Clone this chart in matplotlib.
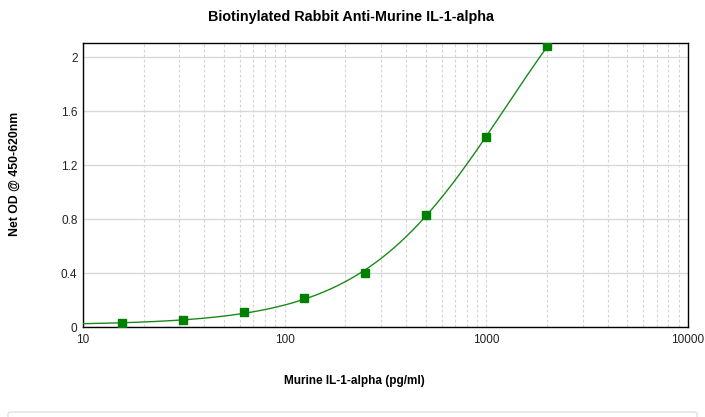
import numpy as np
import matplotlib
matplotlib.use("Agg")
from matplotlib import pyplot as plt
from matplotlib.patches import FancyBboxPatch
from matplotlib.ticker import FixedLocator, LogLocator, NullFormatter

plt.rcParams['font.family'] = ['Liberation Sans', 'DejaVu Sans']

# standard concentrations (pg/ml) and net OD
conc = [15.625, 31.25, 62.5, 125, 250, 500, 1000, 2000]
od = [0.030, 0.052, 0.109, 0.215, 0.402, 0.827, 1.407, 2.080]
y_ticks = [0, 0.4, 0.8, 1.2, 1.6, 2]
y_tick_labels = ["0", "0.4", "0.8", "1.2", "1.6", "2"]
x_ticks = [10, 100, 1000, 10000]
x_tick_labels = ["10", "100", "1000", "10000"]


def fit_4pl(x, y):
    # crude 4PL fit: grid over slope/midpoint, bottom/top by least squares
    x = np.asarray(x, float)
    y = np.asarray(y, float)
    best = None
    for b in np.linspace(0.5, 3.0, 101):
        for logc in np.linspace(2.0, 5.0, 151):
            f = 1.0 / (1.0 + (x / 10 ** logc) ** b)
            A = np.column_stack([f, 1 - f])
            (a, d), *_ = np.linalg.lstsq(A, y, rcond=None)
            err = np.sum((A @ [a, d] - y) ** 2)
            if best is None or err < best[0]:
                best = (err, a, b, 10 ** logc, d)
    return best[1:]


a, b, c, d = fit_4pl(conc, od)
xs = np.logspace(1, np.log10(conc[-1]), 300)
ys = d + (a - d) / (1 + (xs / c) ** b)

fig = plt.figure(figsize=(7.05, 4.17), dpi=100)
ax = fig.add_axes([83 / 705, 1 - 327 / 417, 605 / 705, 284 / 417])

ax.plot(xs, ys, color="#1a8a1a", lw=1.0, zorder=3)
ax.plot(conc, od, ls="none", marker="s", ms=5.8, color="#008000", zorder=4)

ax.set_xscale("log")
ax.set_xlim(10, 10000)
ax.set_ylim(0, 2.104)
ax.xaxis.set_major_locator(FixedLocator(x_ticks))
ax.set_xticklabels(x_tick_labels)
ax.xaxis.set_minor_locator(LogLocator(base=10, subs=np.arange(2, 10)))
ax.xaxis.set_minor_formatter(NullFormatter())
ax.set_yticks(y_ticks)
ax.set_yticklabels(y_tick_labels)
ax.tick_params(which="both", length=0, labelsize=8.5, colors="#222222")
ax.tick_params(axis="x", pad=5)
ax.tick_params(axis="y", pad=4)

ax.grid(axis="x", which="both", color="#d4d4d4", ls=(0, (2.5, 2)), lw=0.8)
ax.grid(axis="y", which="major", color="#d8d8d8", ls="-", lw=1.0)
ax.set_axisbelow(True)
for s in ax.spines.values():
    s.set_linewidth(1.0)
    s.set_color("black")

fig.text(351 / 705, 1 - 17 / 417, "Biotinylated Rabbit Anti-Murine IL-1-alpha",
         ha="center", va="center", fontsize=10.4, fontweight="bold")
fig.text(354 / 705, 1 - 381 / 417, "Murine IL-1-alpha (pg/ml)",
         ha="center", va="center", fontsize=8.5, fontweight="bold")
fig.text(15 / 705, 1 - 174 / 417, "Net OD @ 450-620nm", rotation=90,
         ha="center", va="center", fontsize=8.8, fontweight="bold")

# light frame peeking in at the bottom edge
fig.patches.append(FancyBboxPatch((8 / 705, 1 - 430 / 417), 689 / 705, 18 / 417,
                                  boxstyle="round,pad=0,rounding_size=0.005",
                                  transform=fig.transFigure, fc="white",
                                  ec="#e0e0e0", lw=1.0))

fig.savefig("out.png", dpi=100)
